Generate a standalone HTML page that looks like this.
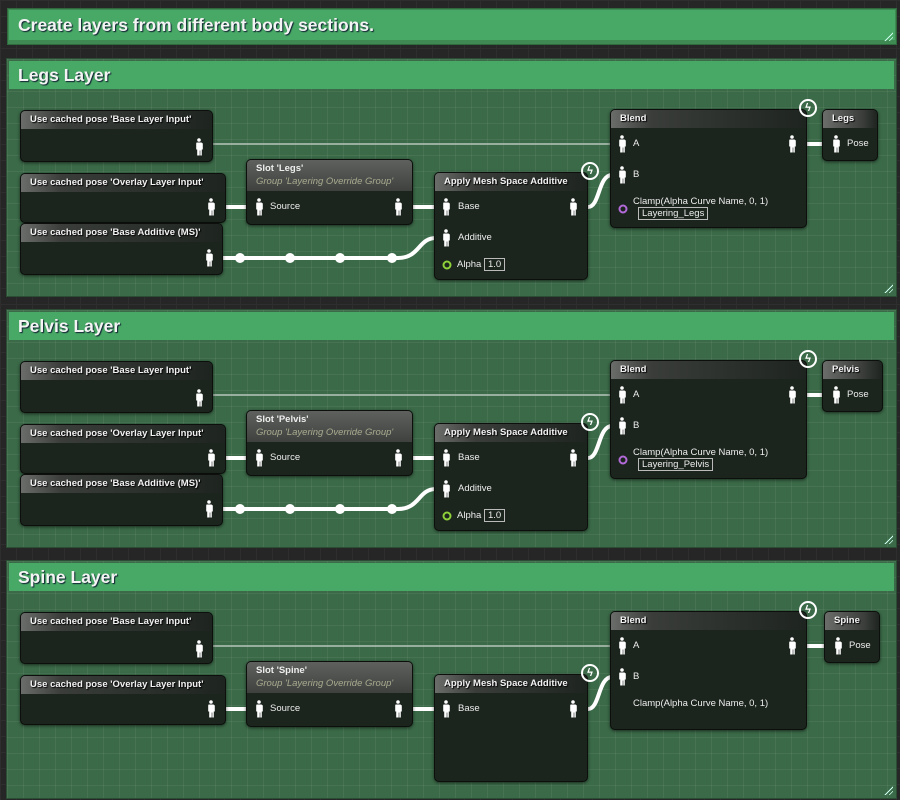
<!DOCTYPE html>
<html><head><meta charset="utf-8">
<style>
*{margin:0;padding:0;box-sizing:border-box}
body{width:900px;height:712px;overflow:hidden;background:#262626;font-family:"Liberation Sans",sans-serif;position:relative;
background-image:linear-gradient(#2e2e2e 1px,transparent 1px),linear-gradient(90deg,#2e2e2e 1px,transparent 1px);background-size:16px 16px;}
.top{position:absolute;left:7px;top:8px;width:890px;height:37px;background:#3f8a52;border:1px solid #2f6a3e}
.top .h{position:absolute;left:1px;top:1px;right:1px;height:30px;background:#48a865;color:#f4f4f4;font-weight:bold;font-size:17.5px;line-height:30px;padding-left:9px;text-shadow:1px 1px 1px #123}
.sec{position:absolute;left:6px;width:891px;height:239px;border:1px solid #2a4d33;
background-image:linear-gradient(rgba(255,255,255,.06) 1px,transparent 1px),linear-gradient(90deg,rgba(255,255,255,.06) 1px,transparent 1px);background-size:16px 16px;background-color:#3b6a48}
.sec .h{position:absolute;left:2px;top:2px;right:2px;height:28px;background:#48a865;color:#f4f4f4;font-weight:bold;font-size:17.5px;line-height:28px;padding-left:9px;text-shadow:1px 1px 1px #123}
.grip{position:absolute;right:3px;bottom:3px;width:10px;height:10px;background:repeating-linear-gradient(135deg,transparent 0 2px,#cfe 2px 3px);clip-path:polygon(100% 0,100% 100%,0 100%)}
.n{position:absolute;background:#1b241d;border:1px solid #0c0f0c;border-radius:5px;box-shadow:0 1px 3px rgba(0,0,0,.6);overflow:hidden;color:#eee;font-size:9.5px}
.n .t{height:18px;line-height:17px;padding-left:9px;font-weight:bold;color:#f2f2f2;background:linear-gradient(90deg,#6a6d6a 0,#3a3d3a 40px,#1e2420 100%);text-shadow:1px 1px 1px #000}
.n .t2{height:31px;padding:3px 9px;font-weight:bold;background:linear-gradient(180deg,#5e615e,#3e413e);}
.n .t2 i{display:block;font-weight:normal;color:#a9ab8f;font-size:9.5px;margin-top:2px}
.lbl{position:absolute;font-size:9.5px;color:#eee}
.box{display:inline-block;border:1px solid #bbb;padding:0 3px;line-height:11px;font-size:9.5px}
svg.w{position:absolute;left:0;top:0;overflow:visible}
.ic{position:absolute;width:18px;height:18px;border:2px solid #fff;border-radius:50%;color:#fff;font-size:11px;line-height:14px;text-align:center;font-weight:bold}
</style></head><body>
<svg width="0" height="0" style="position:absolute"><defs>
<symbol id="p" viewBox="0 0 8 18"><circle cx="4" cy="2" r="1.8" fill="#fff"/><path d="M1.5 4.5h5l1.3 1v6h-1v6h-1.5v-5h-0.6v5H2.2v-6h-1v-6z" fill="#fff"/></symbol>
</defs></svg>
<div class="top"><div class="h">Create layers from different body sections.</div><div class="grip"></div></div>

<div class="sec" style="top:58px"><div class="h">Legs Layer</div><div class="grip"></div></div>
<div class="sec" style="top:309px"><div class="h">Pelvis Layer</div><div class="grip"></div></div>
<div class="sec" style="top:560px"><div class="h">Spine Layer</div><div class="grip"></div></div>

<div style="position:absolute;left:0;top:58px;width:900px;height:240px">
<svg class="w" width="900" height="240">
<line x1="213" y1="86" x2="612" y2="86" stroke="#b8c4bb" stroke-width="1.5"/>
<path d="M226 149H248M413 149H436M807 86H824" stroke="#fff" stroke-width="4"/>
<path d="M588 149C600 149 598 117 612 117" stroke="#fff" stroke-width="4" fill="none"/>
<path d="M223 200H398C420 200 418 180 436 180" stroke="#fff" stroke-width="4" fill="none"/>
<g fill="#fff"><circle cx="240" cy="200" r="5"/><circle cx="290" cy="200" r="5"/><circle cx="340" cy="200" r="5"/><circle cx="392" cy="200" r="5"/></g>
</svg>
<div class="n" style="left:20px;top:52px;width:193px;height:52px"><div class="t">Use cached pose 'Base Layer Input'</div></div>
<div class="n" style="left:20px;top:115px;width:206px;height:50px"><div class="t">Use cached pose 'Overlay Layer Input'</div></div>
<div class="n" style="left:20px;top:165px;width:203px;height:52px"><div class="t">Use cached pose 'Base Additive (MS)'</div></div>
<div class="n" style="left:246px;top:101px;width:167px;height:66px"><div class="t2">Slot 'Legs'<i>Group 'Layering Override Group'</i></div></div>
<div class="n" style="left:434px;top:114px;width:154px;height:108px"><div class="t">Apply Mesh Space Additive</div></div>
<div class="n" style="left:610px;top:51px;width:197px;height:119px"><div class="t">Blend</div></div>
<div class="n" style="left:822px;top:51px;width:56px;height:52px"><div class="t">Legs</div></div>
<div class="ic" style="left:799px;top:41px">ϟ</div><div class="ic" style="left:581px;top:104px">ϟ</div>
<svg class="w" width="900" height="240">
<use href="#p" x="195" y="80" width="8" height="18"/><use href="#p" x="207" y="140" width="8" height="18"/>
<use href="#p" x="205" y="191" width="8" height="18"/><use href="#p" x="255" y="140" width="8" height="18"/>
<use href="#p" x="394" y="140" width="8" height="18"/><use href="#p" x="442" y="140" width="8" height="18"/>
<use href="#p" x="569" y="140" width="8" height="18"/><use href="#p" x="442" y="171" width="8" height="18"/>
<use href="#p" x="618" y="77" width="8" height="18"/><use href="#p" x="618" y="108" width="8" height="18"/>
<use href="#p" x="788" y="77" width="8" height="18"/><use href="#p" x="832" y="77" width="8" height="18"/>
<circle cx="447" cy="207" r="3.5" fill="none" stroke="#8fd13a" stroke-width="2"/>
<circle cx="623" cy="151" r="3.5" fill="none" stroke="#b36ad8" stroke-width="2"/>
</svg>
<div class="lbl" style="left:270px;top:143px">Source</div>
<div class="lbl" style="left:458px;top:143px">Base</div>
<div class="lbl" style="left:458px;top:174px">Additive</div>
<div class="lbl" style="left:457px;top:200px">Alpha <span class="box">1.0</span></div>
<div class="lbl" style="left:633px;top:80px">A</div>
<div class="lbl" style="left:633px;top:111px">B</div>
<div class="lbl" style="left:633px;top:138px">Clamp(Alpha Curve Name, 0, 1)<br><span class="box" style="margin-left:5px">Layering_Legs</span></div>
<div class="lbl" style="left:847px;top:80px">Pose</div>
</div>

<div style="position:absolute;left:0;top:309px;width:900px;height:240px">
<svg class="w" width="900" height="240">
<line x1="213" y1="86" x2="612" y2="86" stroke="#b8c4bb" stroke-width="1.5"/>
<path d="M226 149H248M413 149H436M807 86H824" stroke="#fff" stroke-width="4"/>
<path d="M588 149C600 149 598 117 612 117" stroke="#fff" stroke-width="4" fill="none"/>
<path d="M223 200H398C420 200 418 180 436 180" stroke="#fff" stroke-width="4" fill="none"/>
<g fill="#fff"><circle cx="240" cy="200" r="5"/><circle cx="290" cy="200" r="5"/><circle cx="340" cy="200" r="5"/><circle cx="392" cy="200" r="5"/></g>
</svg>
<div class="n" style="left:20px;top:52px;width:193px;height:52px"><div class="t">Use cached pose 'Base Layer Input'</div></div>
<div class="n" style="left:20px;top:115px;width:206px;height:50px"><div class="t">Use cached pose 'Overlay Layer Input'</div></div>
<div class="n" style="left:20px;top:165px;width:203px;height:52px"><div class="t">Use cached pose 'Base Additive (MS)'</div></div>
<div class="n" style="left:246px;top:101px;width:167px;height:66px"><div class="t2">Slot 'Pelvis'<i>Group 'Layering Override Group'</i></div></div>
<div class="n" style="left:434px;top:114px;width:154px;height:108px"><div class="t">Apply Mesh Space Additive</div></div>
<div class="n" style="left:610px;top:51px;width:197px;height:119px"><div class="t">Blend</div></div>
<div class="n" style="left:822px;top:51px;width:61px;height:52px"><div class="t">Pelvis</div></div>
<div class="ic" style="left:799px;top:41px">ϟ</div><div class="ic" style="left:581px;top:104px">ϟ</div>
<svg class="w" width="900" height="240">
<use href="#p" x="195" y="80" width="8" height="18"/><use href="#p" x="207" y="140" width="8" height="18"/>
<use href="#p" x="205" y="191" width="8" height="18"/><use href="#p" x="255" y="140" width="8" height="18"/>
<use href="#p" x="394" y="140" width="8" height="18"/><use href="#p" x="442" y="140" width="8" height="18"/>
<use href="#p" x="569" y="140" width="8" height="18"/><use href="#p" x="442" y="171" width="8" height="18"/>
<use href="#p" x="618" y="77" width="8" height="18"/><use href="#p" x="618" y="108" width="8" height="18"/>
<use href="#p" x="788" y="77" width="8" height="18"/><use href="#p" x="832" y="77" width="8" height="18"/>
<circle cx="447" cy="207" r="3.5" fill="none" stroke="#8fd13a" stroke-width="2"/>
<circle cx="623" cy="151" r="3.5" fill="none" stroke="#b36ad8" stroke-width="2"/>
</svg>
<div class="lbl" style="left:270px;top:143px">Source</div>
<div class="lbl" style="left:458px;top:143px">Base</div>
<div class="lbl" style="left:458px;top:174px">Additive</div>
<div class="lbl" style="left:457px;top:200px">Alpha <span class="box">1.0</span></div>
<div class="lbl" style="left:633px;top:80px">A</div>
<div class="lbl" style="left:633px;top:111px">B</div>
<div class="lbl" style="left:633px;top:138px">Clamp(Alpha Curve Name, 0, 1)<br><span class="box" style="margin-left:5px">Layering_Pelvis</span></div>
<div class="lbl" style="left:847px;top:80px">Pose</div>
</div>

<div style="position:absolute;left:0;top:560px;width:900px;height:240px">
<svg class="w" width="900" height="240">
<line x1="213" y1="86" x2="612" y2="86" stroke="#b8c4bb" stroke-width="1.5"/>
<path d="M226 149H248M413 149H436M807 86H824" stroke="#fff" stroke-width="4"/>
<path d="M588 149C600 149 598 117 612 117" stroke="#fff" stroke-width="4" fill="none"/>
</svg>
<div class="n" style="left:20px;top:52px;width:193px;height:52px"><div class="t">Use cached pose 'Base Layer Input'</div></div>
<div class="n" style="left:20px;top:115px;width:206px;height:50px"><div class="t">Use cached pose 'Overlay Layer Input'</div></div>
<div class="n" style="left:246px;top:101px;width:167px;height:66px"><div class="t2">Slot 'Spine'<i>Group 'Layering Override Group'</i></div></div>
<div class="n" style="left:434px;top:114px;width:154px;height:108px"><div class="t">Apply Mesh Space Additive</div></div>
<div class="n" style="left:610px;top:51px;width:197px;height:119px"><div class="t">Blend</div></div>
<div class="n" style="left:824px;top:51px;width:56px;height:52px"><div class="t">Spine</div></div>
<div class="ic" style="left:799px;top:41px">ϟ</div><div class="ic" style="left:581px;top:104px">ϟ</div>
<svg class="w" width="900" height="240">
<use href="#p" x="195" y="80" width="8" height="18"/><use href="#p" x="207" y="140" width="8" height="18"/>
<use href="#p" x="255" y="140" width="8" height="18"/>
<use href="#p" x="394" y="140" width="8" height="18"/><use href="#p" x="442" y="140" width="8" height="18"/>
<use href="#p" x="569" y="140" width="8" height="18"/>
<use href="#p" x="618" y="77" width="8" height="18"/><use href="#p" x="618" y="108" width="8" height="18"/>
<use href="#p" x="788" y="77" width="8" height="18"/><use href="#p" x="834" y="77" width="8" height="18"/>
</svg>
<div class="lbl" style="left:270px;top:143px">Source</div>
<div class="lbl" style="left:458px;top:143px">Base</div>
<div class="lbl" style="left:633px;top:80px">A</div>
<div class="lbl" style="left:633px;top:111px">B</div>
<div class="lbl" style="left:633px;top:138px">Clamp(Alpha Curve Name, 0, 1)</div>
<div class="lbl" style="left:849px;top:80px">Pose</div>
</div>
</body></html>
